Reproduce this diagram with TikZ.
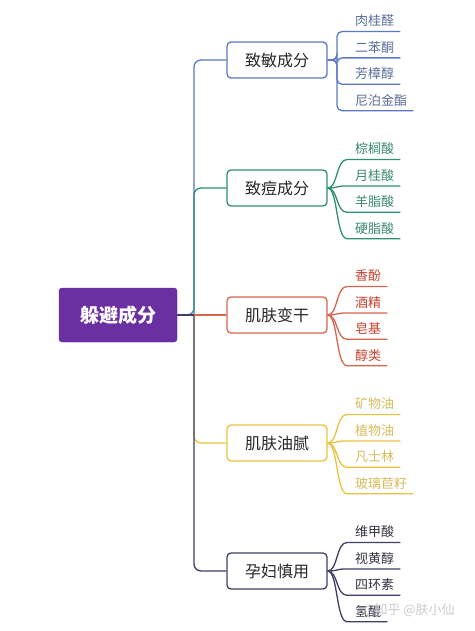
\documentclass[tikz,border=0pt]{standalone}
\usepackage{fontspec}
\setmainfont{Noto Sans CJK SC}
\usetikzlibrary{calc}
\definecolor{cBlue}{HTML}{5B78C8}
\definecolor{cTeal}{HTML}{2F8F72}
\definecolor{cRed}{HTML}{D8654F}
\definecolor{cYel}{HTML}{EAC23E}
\definecolor{cNavy}{HTML}{3E4066}
\definecolor{cPurp}{HTML}{6A2FA0}
\definecolor{tBlue}{HTML}{5C6F9A}
\definecolor{tTeal}{HTML}{3A8A6E}
\definecolor{tRed}{HTML}{C8402F}
\definecolor{tYel}{HTML}{D6BC5C}
\definecolor{tNavy}{HTML}{333344}
\begin{document}
\begin{tikzpicture}[x=1pt,y=-1pt,
  rootbox/.style={draw=cPurp!80!blue, fill=cPurp, rounded corners=3pt, minimum width=118pt, minimum height=54pt, inner sep=0pt, text=white, font=\fontsize{19}{22}\selectfont\bfseries},
  catbox/.style={draw, fill=white, line width=1.3pt, rounded corners=4pt, minimum width=100pt, minimum height=36pt, inner sep=0pt, text=black!85, font=\fontsize{16}{19}\selectfont},
  leaf/.style={inner sep=0pt, anchor=west, font=\fontsize{13}{15}\selectfont},
  conn/.style={line width=1.3pt},
  wm/.style={text=gray!45, opacity=0.9, font=\fontsize{13}{15}\selectfont}]
\useasboundingbox (0,0) rectangle (474,631);
\fill[white] (0,0) rectangle (474,631);

% root
\node[rootbox] (root) at (118,315) {躲避成分};
\coordinate (trunk) at (194,315);

% categories
\node[catbox, draw=cBlue] (c1) at (277,60) {致敏成分};
\node[catbox, draw=cTeal] (c2) at (277,188) {致痘成分};
\node[catbox, draw=cRed] (c3) at (277,315) {肌肤变干};
\node[catbox, draw=cYel] (c4) at (277,443) {肌肤油腻};
\node[catbox, draw=cNavy] (c5) at (277,571) {孕妇慎用};

% trunk connectors
\begin{scope}[on background layer/.style={}]
\draw[conn, cBlue, rounded corners=7pt] (root.east) -- (trunk) |- (c1.west);
\draw[conn, cTeal, rounded corners=7pt] (trunk) |- (c2.west);
\draw[conn, cYel, rounded corners=7pt] (trunk) |- (c4.west);
\draw[conn, cNavy, rounded corners=7pt] (trunk) |- (c5.west);
\draw[conn, cNavy] (root.east) -- (trunk);
\draw[conn, cRed] (trunk) -- (c3.west);
\end{scope}

% category 1 (elbow)
\foreach \t [count=\j] in {肉桂醛,二苯酮,芳樟醇,尼泊金酯} {
  \pgfmathsetmacro\ly{60-28.5+(\j-1)*26.4}
  \node[leaf, text=tBlue] (a\j) at (355,\ly-10.5) {\t};
  \coordinate (ua\j) at (337,\ly);
  \draw[conn, cBlue, rounded corners=5pt] (c1.east) -- (337,60) |- ([xshift=6pt]a\j.east |- ua\j);
}
% category 2-5 (curves)
\foreach \t [count=\j] in {棕榈酸,月桂酸,羊脂酸,硬脂酸} {
  \pgfmathsetmacro\ly{188-28.5+(\j-1)*26.4}
  \node[leaf, text=tTeal] (b\j) at (355,\ly-10.5) {\t};
  \coordinate (ub\j) at (347,\ly);
  \draw[conn, cTeal] (c2.east) .. controls (338,188) and (336,\ly) .. (ub\j) -- ([xshift=6pt]b\j.east |- ub\j);
}
\foreach \t [count=\j] in {香酚,酒精,皂基,醇类} {
  \pgfmathsetmacro\ly{315-28.5+(\j-1)*26.4}
  \node[leaf, text=tRed] (d\j) at (355,\ly-10.5) {\t};
  \coordinate (ud\j) at (347,\ly);
  \draw[conn, cRed] (c3.east) .. controls (338,315) and (336,\ly) .. (ud\j) -- ([xshift=6pt]d\j.east |- ud\j);
}
\foreach \t [count=\j] in {矿物油,植物油,凡士林,玻璃苣籽} {
  \pgfmathsetmacro\ly{443-28.5+(\j-1)*26.4}
  \node[leaf, text=tYel] (e\j) at (355,\ly-10.5) {\t};
  \coordinate (ue\j) at (347,\ly);
  \draw[conn, cYel] (c4.east) .. controls (338,443) and (336,\ly) .. (ue\j) -- ([xshift=6pt]e\j.east |- ue\j);
}
\foreach \t [count=\j] in {维甲酸,视黄醇,四环素,氢醌} {
  \pgfmathsetmacro\ly{571-28.5+(\j-1)*26.4}
  \node[leaf, text=tNavy] (f\j) at (355,\ly-10.5) {\t};
  \coordinate (uf\j) at (347,\ly);
  \draw[conn, cNavy] (c5.east) .. controls (338,571) and (336,\ly) .. (uf\j) -- ([xshift=6pt]f\j.east |- uf\j);
}

% watermark
\node[wm, anchor=west] (wmark) at (371,610) {知乎 @肤小仙};
\end{tikzpicture}
\end{document}
